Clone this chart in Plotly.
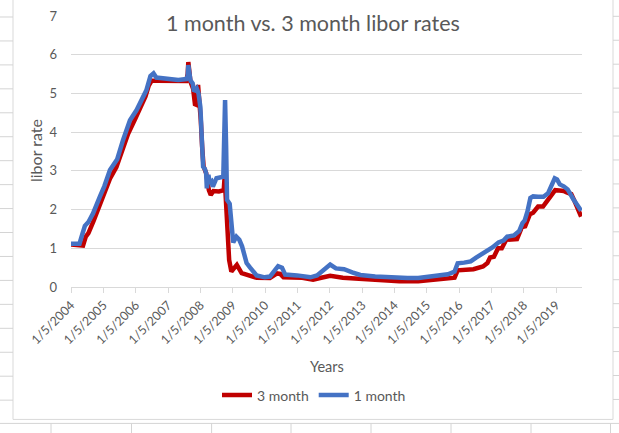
import plotly.graph_objects as go

# ---------------- data ----------------
dates_3m = ["2004-01-05", "2004-04-01", "2004-05-20", "2004-06-20", "2004-07-20", "2004-09-15",
            "2004-10-20", "2004-12-15", "2005-01-20", "2005-03-20", "2005-06-01", "2005-08-10",
            "2005-10-10", "2006-01-01", "2006-03-01", "2006-04-25", "2006-06-01", "2006-07-05",
            "2006-09-01", "2007-01-01", "2007-05-01", "2007-07-30", "2007-08-15", "2007-08-22",
            "2007-09-15", "2007-10-15", "2007-11-05", "2007-11-25", "2007-12-10", "2007-12-25",
            "2008-01-10", "2008-01-25", "2008-02-10", "2008-03-10", "2008-03-25", "2008-04-10",
            "2008-05-01", "2008-06-01", "2008-08-01", "2008-09-25", "2008-10-05", "2008-10-20",
            "2008-11-05", "2008-11-25", "2008-12-20", "2009-02-20", "2009-04-15", "2009-07-01",
            "2009-10-01", "2010-03-01", "2010-05-20", "2010-06-25", "2010-08-01", "2011-03-01",
            "2011-07-01", "2011-10-01", "2012-01-10", "2012-06-01", "2012-12-01", "2013-08-01",
            "2014-03-01", "2014-10-01", "2015-04-01", "2015-09-01", "2015-11-15", "2015-12-20",
            "2016-06-15", "2016-10-01", "2016-11-20", "2016-12-20", "2017-02-01", "2017-03-20",
            "2017-05-01", "2017-06-20", "2017-10-20", "2017-12-15", "2018-01-20", "2018-03-15",
            "2018-04-20", "2018-06-15", "2018-08-10", "2018-09-05", "2018-10-20", "2018-11-20",
            "2018-12-25", "2019-02-10", "2019-04-01", "2019-05-05", "2019-06-25", "2019-08-01",
            "2019-09-01", "2019-10-14"]
rate_3m = [1.10, 1.09, 1.07, 1.30, 1.39, 1.70,
           1.91, 2.30, 2.45, 2.80, 3.10, 3.55,
           3.95, 4.35, 4.62, 4.92, 5.20, 5.33,
           5.33, 5.32, 5.32, 5.32, 5.50, 5.81,
           5.30, 5.12, 4.72, 4.70, 5.22, 4.90,
           4.30, 3.62, 3.12, 2.94, 2.60, 2.50,
           2.38, 2.48, 2.47, 2.50, 2.85, 2.08,
           1.39, 0.70, 0.40, 0.57, 0.36, 0.30,
           0.24, 0.23, 0.35, 0.34, 0.25, 0.24,
           0.19, 0.24, 0.29, 0.24, 0.21, 0.18,
           0.15, 0.15, 0.18, 0.20, 0.24, 0.43,
           0.46, 0.53, 0.62, 0.76, 0.78, 1.00,
           1.00, 1.22, 1.24, 1.55, 1.57, 1.88,
           1.92, 2.08, 2.08, 2.16, 2.30, 2.35,
           2.50, 2.49, 2.48, 2.44, 2.40, 2.22,
           2.05, 1.82]

dates_1m = ["2004-01-05", "2004-04-10", "2004-05-10", "2004-06-10", "2004-07-20", "2004-09-10",
            "2004-11-25", "2005-01-15", "2005-03-20", "2005-05-01", "2005-06-10", "2005-08-15",
            "2005-11-01", "2006-01-15", "2006-05-05", "2006-06-20", "2006-07-25", "2006-08-25",
            "2006-12-20", "2007-03-01", "2007-05-01", "2007-07-30", "2007-08-15", "2007-08-22",
            "2007-09-15", "2007-10-10", "2007-10-25", "2007-11-25", "2007-12-15", "2008-01-05",
            "2008-01-20", "2008-02-05", "2008-02-25", "2008-03-10", "2008-03-18", "2008-04-05",
            "2008-04-20", "2008-05-10", "2008-05-25", "2008-07-05", "2008-09-20", "2008-10-02",
            "2008-10-10", "2008-10-22", "2008-11-01", "2008-12-01", "2008-12-25", "2009-01-10",
            "2009-02-15", "2009-03-20", "2009-04-20", "2009-06-10", "2009-07-20", "2009-10-01",
            "2010-01-01", "2010-03-01", "2010-05-01", "2010-06-01", "2010-07-15", "2010-08-20",
            "2011-01-01", "2011-06-01", "2011-08-15", "2011-10-15", "2012-01-10", "2012-03-15",
            "2012-06-15", "2012-09-15", "2012-12-15", "2013-06-01", "2013-12-01", "2014-06-01",
            "2014-10-01", "2015-03-01", "2015-06-01", "2015-09-01", "2015-11-15", "2015-12-20",
            "2016-03-01", "2016-05-15", "2016-07-15", "2016-09-15", "2016-11-15", "2017-01-15",
            "2017-03-25", "2017-05-20", "2017-07-01", "2017-09-15", "2017-11-15", "2017-12-20",
            "2018-01-15", "2018-02-15", "2018-03-20", "2018-04-20", "2018-06-15", "2018-08-15",
            "2018-10-05", "2018-12-20", "2019-01-15", "2019-02-15", "2019-04-01", "2019-05-15",
            "2019-07-15", "2019-08-20", "2019-10-14"]
rate_1m = [1.12, 1.12, 1.35, 1.58, 1.68, 1.90,
           2.33, 2.60, 3.02, 3.15, 3.30, 3.80,
           4.31, 4.57, 5.08, 5.45, 5.52, 5.41,
           5.37, 5.36, 5.35, 5.37, 5.45, 5.73,
           5.34, 5.26, 5.05, 5.13, 5.00, 4.65,
           3.90, 3.11, 3.05, 2.94, 2.55, 2.90,
           2.68, 2.72, 2.59, 2.81, 2.85, 4.05,
           4.83, 3.60, 2.25, 2.15, 1.45, 1.15,
           1.30, 1.22, 1.05, 0.62, 0.50, 0.30,
           0.25, 0.27, 0.45, 0.54, 0.50, 0.32,
           0.30, 0.25, 0.30, 0.42, 0.58, 0.48,
           0.46, 0.38, 0.31, 0.27, 0.24, 0.23,
           0.23, 0.27, 0.29, 0.33, 0.40, 0.61,
           0.63, 0.66, 0.76, 0.85, 0.92, 1.02,
           1.15, 1.20, 1.30, 1.33, 1.45, 1.65,
           1.72, 1.95, 2.30, 2.34, 2.33, 2.33,
           2.42, 2.81, 2.78, 2.65, 2.60, 2.52,
           2.28, 2.15, 1.97]

tick_dates = ["2004-01-05", "2005-01-05", "2006-01-05", "2007-01-05", "2008-01-05", "2009-01-05",
              "2010-01-05", "2011-01-05", "2012-01-05", "2013-01-05", "2014-01-05", "2015-01-05",
              "2016-01-05", "2017-01-05", "2018-01-05", "2019-01-05"]
tick_labels = ["1/5/2004", "1/5/2005", "1/5/2006", "1/5/2007", "1/5/2008", "1/5/2009",
               "1/5/2010", "1/5/2011", "1/5/2012", "1/5/2013", "1/5/2014", "1/5/2015",
               "1/5/2016", "1/5/2017", "1/5/2018", "1/5/2019"]

title_text = "1 month vs. 3 month libor rates"
x_title = "Years"
y_title = "libor rate"

# ---------------- layout geometry ----------------
FW, FH = 619, 433
L, R, T, B = 71, 37, 15.7, 145.7
PW, PH = FW - L - R, FH - T - B

def px(x):
    return (x - L) / PW

def py(y):
    return 1 - (y - T) / PH

FONT = "Lato, 'Open Sans', sans-serif"
GRAY = "#595959"
GRID = "#D9D9D9"
CELL = "#D4D4D4"

fig = go.Figure()
fig.add_trace(go.Scatter(x=dates_3m, y=rate_3m, mode="lines", name="3 month",
                         line=dict(color="#C00000", width=4.5)))
fig.add_trace(go.Scatter(x=dates_1m, y=rate_1m, mode="lines", name="1 month",
                         line=dict(color="#4472C4", width=4.5)))

shapes = []
# chart area border
shapes.append(dict(type="rect", xref="paper", yref="paper", x0=px(13), x1=px(613),
                   y0=py(420), y1=py(-5), line=dict(color=GRID, width=1), layer="below"))
# spreadsheet cell gridlines outside chart
yy = 16.7
while yy < 420:
    shapes.append(dict(type="line", xref="paper", yref="paper", x0=px(0), x1=px(13),
                       y0=py(yy), y1=py(yy), line=dict(color=CELL, width=1), layer="below"))
    shapes.append(dict(type="line", xref="paper", yref="paper", x0=px(613), x1=px(619),
                       y0=py(yy - 0.7), y1=py(yy - 0.7), line=dict(color=CELL, width=1), layer="below"))
    yy += 24
shapes.append(dict(type="line", xref="paper", yref="paper", x0=px(0), x1=px(619),
                   y0=py(424), y1=py(424), line=dict(color=CELL, width=1), layer="below"))
for xv in [51, 131.5, 211.6, 291, 371, 451, 531, 610.5]:
    shapes.append(dict(type="line", xref="paper", yref="paper", x0=px(xv), x1=px(xv),
                       y0=py(424), y1=py(440), line=dict(color=CELL, width=1), layer="below"))

annotations = [
    dict(text=title_text, xref="paper", yref="paper", x=px(313), y=py(23), xanchor="center",
         yanchor="middle", showarrow=False, font=dict(family=FONT, size=21.5, color=GRAY)),
    dict(text=x_title, xref="paper", yref="paper", x=px(326.5), y=py(367), xanchor="center",
         yanchor="middle", showarrow=False, font=dict(family=FONT, size=14.5, color=GRAY)),
    dict(text=y_title, xref="paper", yref="paper", x=px(35), y=py(151), xanchor="center",
         yanchor="middle", textangle=-90, showarrow=False, font=dict(family=FONT, size=16, color=GRAY)),
]

fig.update_layout(
    width=FW, height=FH,
    margin=dict(l=L, r=R, t=T, b=B, autoexpand=False),
    paper_bgcolor="white", plot_bgcolor="white",
    font=dict(family=FONT, size=12, color=GRAY),
    showlegend=True,
    legend=dict(orientation="h", x=px(314), y=py(396), xanchor="center", yanchor="middle",
                font=dict(family=FONT, size=14, color=GRAY), bgcolor="rgba(0,0,0,0)"),
    shapes=shapes, annotations=annotations,
    xaxis=dict(type="date", range=["2004-01-05", "2019-10-24"], tickvals=tick_dates,
               ticktext=tick_labels, tickangle=-45, showgrid=False, showline=True,
               linecolor=GRID, linewidth=1, ticks="outside", ticklen=5, tickcolor=GRID,
               tickfont=dict(family=FONT, size=12.5, color=GRAY), zeroline=False),
    yaxis=dict(range=[0, 7], dtick=1, showgrid=True, gridcolor=GRID, gridwidth=1,
               zeroline=False, showline=False, ticks="", ticklabelstandoff=13,
               tickfont=dict(family=FONT, size=13, color=GRAY)),
)

fig.write_html("out.html", config={"displayModeBar": False},
               post_script="document.body.style.margin='0px';")
